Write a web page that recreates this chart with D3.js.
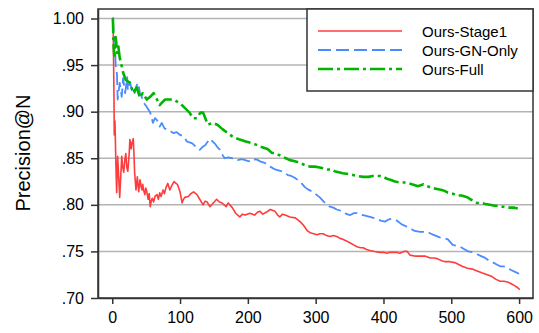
<!DOCTYPE html>
<html>
<head>
<meta charset="utf-8">
<script src="https://cdn.jsdelivr.net/npm/d3@7"></script>
<style>
  body { margin: 0; background: #fff; }
  text { font-family: Arial, "Liberation Sans", sans-serif; fill: #000; }
</style>
</head>
<body>
<div id="chart"></div>
<script>
// values: [N, precision]
var stage1 = [[0.5,1.0],[1.5,0.985],[2.5,0.92],[3,0.875],[4,0.89],[5.5,0.84],[6.5,0.813],[8,0.852],[9.5,0.83],[11,0.808],[12.5,0.83],[14,0.852],[15.5,0.84],[17,0.835],[18.5,0.848],[20,0.855],[21.5,0.84],[23,0.836],[25,0.855],[26,0.870],[28,0.86],[29,0.866],[31,0.871],[32,0.855],[33,0.835],[35,0.816],[37,0.830],[39,0.814],[41,0.827],[43,0.818],[44,0.816],[45,0.822],[46.5,0.815],[48,0.811],[49.5,0.818],[51,0.814],[53,0.806],[54.5,0.812],[56,0.798],[57.5,0.804],[59,0.807],[61,0.803],[63,0.809],[66,0.811],[68,0.806],[70,0.813],[72,0.809],[75,0.816],[77,0.812],[79,0.818],[82,0.823],[84,0.818],[85,0.816],[88,0.821],[91,0.825],[94,0.823],[96,0.822],[98,0.818],[100,0.814],[103,0.802],[105,0.806],[107,0.808],[112,0.809],[116,0.812],[120,0.814],[125,0.811],[129,0.806],[134,0.800],[137,0.804],[140,0.803],[144,0.798],[149,0.802],[154,0.806],[158,0.803],[162,0.802],[168,0.798],[171,0.802],[177,0.797],[182,0.791],[188,0.787],[192,0.790],[196,0.789],[203,0.791],[210,0.789],[214,0.792],[218,0.793],[222,0.790],[227,0.792],[233,0.795],[240,0.793],[244,0.789],[247,0.787],[251,0.790],[255,0.789],[262,0.787],[270,0.786],[277,0.782],[282,0.778],[288,0.772],[292,0.770],[297,0.769],[302,0.768],[306,0.769],[311,0.769],[316,0.767],[321,0.766],[326,0.767],[331,0.766],[336,0.764],[340,0.763],[346,0.761],[351,0.759],[356,0.757],[361,0.755],[366,0.754],[370,0.754],[375,0.752],[380,0.751],[387,0.750],[395,0.749],[400,0.749],[405,0.748],[410,0.749],[414,0.749],[419,0.749],[424,0.748],[430,0.750],[435,0.750],[439,0.746],[446,0.745],[454,0.745],[461,0.745],[469,0.743],[475,0.743],[480,0.742],[486,0.740],[491,0.739],[498,0.739],[505,0.738],[511,0.736],[516,0.734],[524,0.732],[531,0.731],[538,0.729],[545,0.727],[553,0.725],[560,0.723],[566,0.720],[572,0.718],[578,0.718],[584,0.717],[589,0.715],[594,0.713],[598,0.711],[601,0.709]];

var gnOnly = [[0.5,1.0],[1,1.0],[2,0.985],[4,0.977],[5,0.95],[7,0.94],[8,0.913],[11,0.931],[14,0.916],[16,0.936],[19,0.920],[22,0.937],[23,0.923],[26,0.932],[29,0.923],[31,0.926],[33,0.920],[36,0.928],[38,0.931],[41,0.920],[44,0.915],[45,0.911],[50,0.906],[56,0.899],[60,0.888],[63,0.893],[66,0.891],[70,0.884],[73,0.888],[77,0.882],[81,0.881],[86,0.879],[90,0.877],[95,0.878],[100,0.875],[104,0.874],[107,0.872],[110,0.868],[114,0.867],[118,0.866],[124,0.862],[129,0.859],[133,0.862],[137,0.864],[141,0.868],[144,0.871],[148,0.868],[151,0.866],[155,0.862],[159,0.859],[163,0.853],[166,0.850],[171,0.851],[177,0.850],[181,0.848],[185,0.848],[191,0.849],[196,0.848],[201,0.847],[206,0.846],[211,0.849],[215,0.848],[220,0.846],[225,0.845],[233,0.841],[240,0.838],[245,0.837],[250,0.836],[259,0.832],[264,0.831],[269,0.829],[277,0.825],[284,0.819],[290,0.816],[296,0.814],[301,0.811],[306,0.808],[314,0.802],[321,0.798],[326,0.797],[331,0.795],[340,0.793],[346,0.790],[351,0.789],[356,0.791],[361,0.791],[366,0.789],[370,0.789],[380,0.787],[385,0.786],[390,0.785],[396,0.783],[402,0.782],[407,0.784],[412,0.785],[416,0.784],[420,0.783],[427,0.779],[436,0.776],[441,0.774],[446,0.772],[454,0.771],[460,0.771],[465,0.771],[470,0.769],[473,0.768],[483,0.765],[490,0.764],[495,0.763],[502,0.757],[508,0.756],[513,0.755],[520,0.752],[525,0.750],[532,0.749],[538,0.747],[544,0.745],[550,0.743],[556,0.740],[562,0.738],[567,0.736],[572,0.734],[577,0.734],[582,0.733],[588,0.730],[594,0.728],[600,0.726]];

var full = [[0.5,1.0],[1,1.0],[2,0.97],[3,0.96],[5,0.98],[6,0.974],[7,0.963],[9,0.97],[11,0.958],[13,0.952],[16,0.942],[20,0.934],[26,0.931],[31,0.920],[36,0.926],[41,0.915],[45,0.920],[51,0.913],[56,0.916],[61,0.920],[66,0.913],[70,0.907],[75,0.911],[78,0.913],[85,0.913],[91,0.913],[95,0.911],[100,0.909],[107,0.904],[114,0.899],[119,0.893],[125,0.893],[130,0.899],[134,0.899],[141,0.886],[148,0.888],[155,0.886],[163,0.881],[170,0.877],[178,0.873],[188,0.870],[197,0.868],[207,0.866],[214,0.864],[220,0.862],[229,0.860],[235,0.856],[242,0.855],[250,0.852],[256,0.850],[262,0.848],[268,0.847],[273,0.846],[277,0.845],[283,0.843],[292,0.841],[299,0.841],[306,0.840],[312,0.839],[317,0.838],[324,0.838],[328,0.836],[334,0.835],[340,0.834],[348,0.833],[355,0.832],[362,0.831],[370,0.830],[378,0.830],[384,0.831],[390,0.831],[395,0.831],[400,0.830],[405,0.828],[410,0.827],[417,0.825],[424,0.824],[430,0.824],[435,0.824],[442,0.822],[451,0.820],[459,0.822],[465,0.820],[472,0.818],[479,0.817],[486,0.816],[490,0.815],[495,0.813],[502,0.812],[510,0.810],[515,0.810],[520,0.809],[524,0.808],[528,0.806],[533,0.804],[538,0.802],[544,0.802],[550,0.801],[557,0.800],[564,0.799],[570,0.799],[576,0.798],[582,0.797],[587,0.797],[593,0.797],[598,0.796]];

var seriesNames = ["Ours-Stage1", "Ours-GN-Only", "Ours-Full"];
var seriesData = [stage1, gnOnly, full];
var seriesColors = ["#ff3c3c", "#4a8cff", "#00b400"];
var seriesDash = [null, "13,5", "15,4,3,4"];
var seriesWidth = [1.6, 1.8, 2.6];

var xTicks = [0, 100, 200, 300, 400, 500, 600];
var yTicks = [0.70, 0.75, 0.80, 0.85, 0.90, 0.95, 1.00];
var yTickLabels = [".70", ".75", ".80", ".85", ".90", ".95", "1.00"];

var svgWidth = 539;
var svgHeight = 333;
var margin = { left: 98, right: 6, top: 9, bottom: 35 };
var width = svgWidth - margin.left - margin.right;
var height = svgHeight - margin.top - margin.bottom;

var svg = d3.select("#chart")
  .append("svg")
  .attr("width", svgWidth)
  .attr("height", svgHeight);

var chartGroup = svg.append("g")
  .attr("transform", `translate(${margin.left}, ${margin.top})`);

var xScale = d3.scaleLinear().domain([-21, 620.5]).range([0, width]);
var yScale = d3.scaleLinear().domain([0.70, 1.0102]).range([height, 0]);

// grid
chartGroup.append("g")
  .selectAll("line")
  .data(yTicks.slice(1))
  .enter()
  .append("line")
  .attr("x1", 0)
  .attr("x2", width)
  .attr("y1", d => yScale(d))
  .attr("y2", d => yScale(d))
  .attr("stroke", "#b4b4b4")
  .attr("stroke-width", 1.5);

// series
var line = d3.line()
  .x(d => xScale(d[0]))
  .y(d => yScale(d[1]));

seriesData.forEach(function(s, i) {
  chartGroup.append("path")
    .datum(s)
    .attr("d", line)
    .attr("fill", "none")
    .attr("stroke", seriesColors[i])
    .attr("stroke-width", seriesWidth[i])
    .attr("stroke-dasharray", seriesDash[i])
    .attr("stroke-linejoin", "round");
});

// frame
chartGroup.append("rect")
  .attr("x", 0)
  .attr("y", 0)
  .attr("width", width)
  .attr("height", height)
  .attr("fill", "none")
  .attr("stroke", "#333")
  .attr("stroke-width", 1.5);

// axes
var xAxis = d3.axisBottom(xScale).tickValues(xTicks).tickSize(6).tickPadding(8).tickSizeOuter(0);
var yAxis = d3.axisLeft(yScale).tickValues(yTicks).tickSize(7).tickPadding(7).tickSizeOuter(0)
  .tickFormat((d, i) => yTickLabels[i]);

var xg = chartGroup.append("g")
  .attr("transform", "translate(0," + height + ")")
  .call(xAxis);
var yg = chartGroup.append("g").call(yAxis);

[xg, yg].forEach(function(g) {
  g.select(".domain").attr("stroke", "#333").attr("stroke-width", 1.5);
  g.selectAll(".tick line").attr("stroke", "#333").attr("stroke-width", 1.5);
  g.selectAll(".tick text")
    .attr("font-size", "16px")
    .attr("font-family", "Arial, 'Liberation Sans', sans-serif")
    .attr("fill", "#000");
});

// y label
svg.append("text")
  .attr("transform", "translate(30,153) rotate(-90)")
  .attr("text-anchor", "middle")
  .attr("font-size", "20px")
  .text("Precision@N");

// legend
var legend = chartGroup.append("g")
  .attr("transform", `translate(${width - 226}, 0)`);

legend.append("rect")
  .attr("x", 0)
  .attr("y", 0)
  .attr("width", 226)
  .attr("height", 82)
  .attr("fill", "#fff")
  .attr("stroke", "#333")
  .attr("stroke-width", 1.5);

seriesNames.forEach(function(name, i) {
  var yy = 22 + i * 19;
  legend.append("line")
    .attr("x1", 11)
    .attr("x2", 95)
    .attr("y1", yy)
    .attr("y2", yy)
    .attr("stroke", seriesColors[i])
    .attr("stroke-width", seriesWidth[i])
    .attr("stroke-dasharray", seriesDash[i]);
  legend.append("text")
    .attr("x", 115)
    .attr("y", yy + 6)
    .attr("font-size", "15px")
    .text(name);
});
</script>
</body>
</html>
